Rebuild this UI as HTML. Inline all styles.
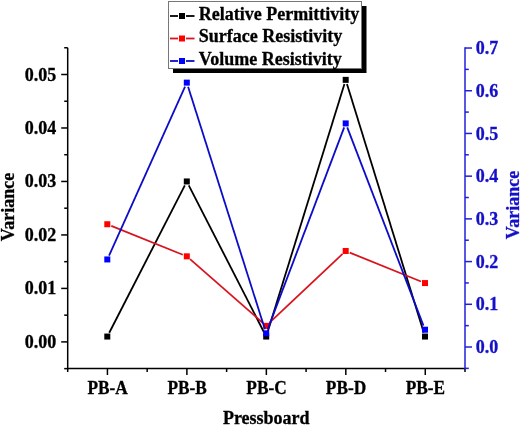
<!DOCTYPE html>
<html><head><meta charset="utf-8"><title>Variance chart</title>
<style>html,body{margin:0;padding:0;background:#fff;width:520px;height:426px;overflow:hidden}svg{display:block}</style>
</head><body>
<svg width="520" height="426" viewBox="0 0 520 426" font-family="'Liberation Serif', 'Times New Roman', serif" font-weight="bold" font-size="18">
<rect width="520" height="426" fill="#fff"/>
<g>
<line x1="67.70" y1="47.80" x2="67.70" y2="369.25" stroke="#000" stroke-width="1.50"/>
<line x1="66.95" y1="368.50" x2="465.00" y2="368.50" stroke="#000" stroke-width="1.50"/>
<line x1="64.20" y1="368.64" x2="67.70" y2="368.64" stroke="#000" stroke-width="1.50"/>
<line x1="61.20" y1="341.90" x2="67.70" y2="341.90" stroke="#000" stroke-width="1.50"/>
<line x1="64.20" y1="315.16" x2="67.70" y2="315.16" stroke="#000" stroke-width="1.50"/>
<line x1="61.20" y1="288.42" x2="67.70" y2="288.42" stroke="#000" stroke-width="1.50"/>
<line x1="64.20" y1="261.68" x2="67.70" y2="261.68" stroke="#000" stroke-width="1.50"/>
<line x1="61.20" y1="234.94" x2="67.70" y2="234.94" stroke="#000" stroke-width="1.50"/>
<line x1="64.20" y1="208.20" x2="67.70" y2="208.20" stroke="#000" stroke-width="1.50"/>
<line x1="61.20" y1="181.46" x2="67.70" y2="181.46" stroke="#000" stroke-width="1.50"/>
<line x1="64.20" y1="154.72" x2="67.70" y2="154.72" stroke="#000" stroke-width="1.50"/>
<line x1="61.20" y1="127.98" x2="67.70" y2="127.98" stroke="#000" stroke-width="1.50"/>
<line x1="64.20" y1="101.24" x2="67.70" y2="101.24" stroke="#000" stroke-width="1.50"/>
<line x1="61.20" y1="74.50" x2="67.70" y2="74.50" stroke="#000" stroke-width="1.50"/>
<line x1="64.20" y1="47.76" x2="67.70" y2="47.76" stroke="#000" stroke-width="1.50"/>
<line x1="67.70" y1="368.50" x2="67.70" y2="372.00" stroke="#000" stroke-width="1.50"/>
<line x1="107.43" y1="368.50" x2="107.43" y2="375.00" stroke="#000" stroke-width="1.50"/>
<line x1="147.16" y1="368.50" x2="147.16" y2="372.00" stroke="#000" stroke-width="1.50"/>
<line x1="186.89" y1="368.50" x2="186.89" y2="375.00" stroke="#000" stroke-width="1.50"/>
<line x1="226.62" y1="368.50" x2="226.62" y2="372.00" stroke="#000" stroke-width="1.50"/>
<line x1="266.35" y1="368.50" x2="266.35" y2="375.00" stroke="#000" stroke-width="1.50"/>
<line x1="306.08" y1="368.50" x2="306.08" y2="372.00" stroke="#000" stroke-width="1.50"/>
<line x1="345.81" y1="368.50" x2="345.81" y2="375.00" stroke="#000" stroke-width="1.50"/>
<line x1="385.54" y1="368.50" x2="385.54" y2="372.00" stroke="#000" stroke-width="1.50"/>
<line x1="425.27" y1="368.50" x2="425.27" y2="375.00" stroke="#000" stroke-width="1.50"/>
<line x1="465.00" y1="368.50" x2="465.00" y2="372.00" stroke="#000" stroke-width="1.50"/>
</g>
<g>
<line x1="109.26" y1="332.73" x2="184.84" y2="185.29" stroke="#000" stroke-width="1.80"/>
<line x1="188.76" y1="185.29" x2="264.24" y2="332.72" stroke="#000" stroke-width="1.80"/>
<line x1="267.47" y1="332.44" x2="344.43" y2="83.96" stroke="#000" stroke-width="1.80"/>
<line x1="346.97" y1="83.96" x2="423.73" y2="332.44" stroke="#000" stroke-width="1.80"/>
<rect x="104.30" y="333.55" width="6.00" height="6.00" fill="#000"/>
<rect x="183.80" y="178.46" width="6.00" height="6.00" fill="#000"/>
<rect x="263.20" y="333.55" width="6.00" height="6.00" fill="#000"/>
<rect x="342.70" y="76.85" width="6.00" height="6.00" fill="#000"/>
<rect x="422.00" y="333.55" width="6.00" height="6.00" fill="#000"/>
<line x1="111.29" y1="225.85" x2="182.81" y2="254.72" stroke="#d8141f" stroke-width="1.80"/>
<line x1="190.04" y1="259.16" x2="262.96" y2="323.02" stroke="#d8141f" stroke-width="1.80"/>
<line x1="269.33" y1="322.91" x2="342.57" y2="253.93" stroke="#d8141f" stroke-width="1.80"/>
<line x1="349.69" y1="252.60" x2="421.01" y2="281.46" stroke="#d8141f" stroke-width="1.80"/>
<rect x="104.30" y="221.24" width="6.00" height="6.00" fill="#ff0000"/>
<rect x="183.80" y="253.33" width="6.00" height="6.00" fill="#ff0000"/>
<rect x="263.20" y="322.86" width="6.00" height="6.00" fill="#ff0000"/>
<rect x="342.70" y="247.98" width="6.00" height="6.00" fill="#ff0000"/>
<rect x="422.00" y="280.07" width="6.00" height="6.00" fill="#ff0000"/>
<line x1="109.06" y1="255.52" x2="185.04" y2="86.55" stroke="#0c0cc8" stroke-width="1.80"/>
<line x1="188.10" y1="86.72" x2="264.90" y2="329.23" stroke="#0c0cc8" stroke-width="1.80"/>
<line x1="267.72" y1="329.31" x2="344.18" y2="127.43" stroke="#0c0cc8" stroke-width="1.80"/>
<line x1="347.24" y1="127.43" x2="423.46" y2="325.69" stroke="#0c0cc8" stroke-width="1.80"/>
<rect x="104.30" y="256.44" width="6.00" height="6.00" fill="#0000ff"/>
<rect x="183.80" y="79.63" width="6.00" height="6.00" fill="#0000ff"/>
<rect x="263.20" y="330.33" width="6.00" height="6.00" fill="#0000ff"/>
<rect x="342.70" y="120.41" width="6.00" height="6.00" fill="#0000ff"/>
<rect x="422.00" y="326.70" width="6.00" height="6.00" fill="#0000ff"/>
</g>
<g>
<line x1="465.00" y1="47.28" x2="465.00" y2="369.25" stroke="#2020dc" stroke-width="1.50"/>
<line x1="465.00" y1="368.36" x2="468.80" y2="368.36" stroke="#2020dc" stroke-width="1.50"/>
<line x1="465.00" y1="347.00" x2="472.00" y2="347.00" stroke="#2020dc" stroke-width="1.50"/>
<line x1="465.00" y1="325.64" x2="468.80" y2="325.64" stroke="#2020dc" stroke-width="1.50"/>
<line x1="465.00" y1="304.29" x2="472.00" y2="304.29" stroke="#2020dc" stroke-width="1.50"/>
<line x1="465.00" y1="282.94" x2="468.80" y2="282.94" stroke="#2020dc" stroke-width="1.50"/>
<line x1="465.00" y1="261.58" x2="472.00" y2="261.58" stroke="#2020dc" stroke-width="1.50"/>
<line x1="465.00" y1="240.22" x2="468.80" y2="240.22" stroke="#2020dc" stroke-width="1.50"/>
<line x1="465.00" y1="218.87" x2="472.00" y2="218.87" stroke="#2020dc" stroke-width="1.50"/>
<line x1="465.00" y1="197.51" x2="468.80" y2="197.51" stroke="#2020dc" stroke-width="1.50"/>
<line x1="465.00" y1="176.16" x2="472.00" y2="176.16" stroke="#2020dc" stroke-width="1.50"/>
<line x1="465.00" y1="154.80" x2="468.80" y2="154.80" stroke="#2020dc" stroke-width="1.50"/>
<line x1="465.00" y1="133.45" x2="472.00" y2="133.45" stroke="#2020dc" stroke-width="1.50"/>
<line x1="465.00" y1="112.09" x2="468.80" y2="112.09" stroke="#2020dc" stroke-width="1.50"/>
<line x1="465.00" y1="90.74" x2="472.00" y2="90.74" stroke="#2020dc" stroke-width="1.50"/>
<line x1="465.00" y1="69.38" x2="468.80" y2="69.38" stroke="#2020dc" stroke-width="1.50"/>
<line x1="465.00" y1="48.03" x2="472.00" y2="48.03" stroke="#2020dc" stroke-width="1.50"/>
</g>
<g fill="#000" stroke="#000" stroke-width="0.30">
<text transform="translate(56.3,347.90)" text-anchor="end">0.00</text>
<text transform="translate(56.3,294.42)" text-anchor="end">0.01</text>
<text transform="translate(56.3,240.94)" text-anchor="end">0.02</text>
<text transform="translate(56.3,187.46)" text-anchor="end">0.03</text>
<text transform="translate(56.3,133.98)" text-anchor="end">0.04</text>
<text transform="translate(56.3,80.50)" text-anchor="end">0.05</text>
<text transform="translate(107.60,393.9) scale(0.96,1)" text-anchor="middle">PB-A</text>
<text transform="translate(187.10,393.9) scale(0.96,1)" text-anchor="middle">PB-B</text>
<text transform="translate(266.50,393.9) scale(0.96,1)" text-anchor="middle">PB-C</text>
<text transform="translate(346.00,393.9) scale(0.96,1)" text-anchor="middle">PB-D</text>
<text transform="translate(425.30,393.9) scale(0.96,1)" text-anchor="middle">PB-E</text>
<text x="266.3" y="424.3" text-anchor="middle">Pressboard</text>
<text transform="translate(13.6,207) rotate(-90)" text-anchor="middle">Variance</text>
</g>
<g fill="#1410c8" stroke="#1410c8" stroke-width="0.30">
<text transform="translate(475.8,353.20)">0.0</text>
<text transform="translate(475.8,310.49)">0.1</text>
<text transform="translate(475.8,267.78)">0.2</text>
<text transform="translate(475.8,225.07)">0.3</text>
<text transform="translate(475.8,182.36)">0.4</text>
<text transform="translate(475.8,139.65)">0.5</text>
<text transform="translate(475.8,96.94)">0.6</text>
<text transform="translate(475.8,54.23)">0.7</text>
<text transform="translate(518.6,205) rotate(-90)" text-anchor="middle">Variance</text>
</g>
<g>
<rect x="173" y="6" width="193.5" height="67" fill="#000"/>
<rect x="168.5" y="1.5" width="193" height="67" fill="#fff" stroke="#777" stroke-width="1"/>
<line x1="170.00" y1="16.00" x2="178.00" y2="16.00" stroke="#000" stroke-width="1.80"/>
<line x1="186.00" y1="16.00" x2="194.50" y2="16.00" stroke="#000" stroke-width="1.80"/>
<rect x="179" y="13.00" width="6" height="6" fill="#000"/>
<line x1="170.00" y1="38.50" x2="178.00" y2="38.50" stroke="#d8141f" stroke-width="1.80"/>
<line x1="186.00" y1="38.50" x2="194.50" y2="38.50" stroke="#d8141f" stroke-width="1.80"/>
<rect x="179" y="35.50" width="6" height="6" fill="#ff0000"/>
<line x1="170.00" y1="61.00" x2="178.00" y2="61.00" stroke="#0c0cc8" stroke-width="1.80"/>
<line x1="186.00" y1="61.00" x2="194.50" y2="61.00" stroke="#0c0cc8" stroke-width="1.80"/>
<rect x="179" y="58.00" width="6" height="6" fill="#0000ff"/>
</g>
<g fill="#000" stroke="#000" stroke-width="0.30">
<text x="198.8" y="19.50">Relative Permittivity</text>
<text x="198.8" y="42.30">Surface Resistivity</text>
<text x="198.8" y="64.50">Volume Resistivity</text>
</g>
</svg>
</body></html>
